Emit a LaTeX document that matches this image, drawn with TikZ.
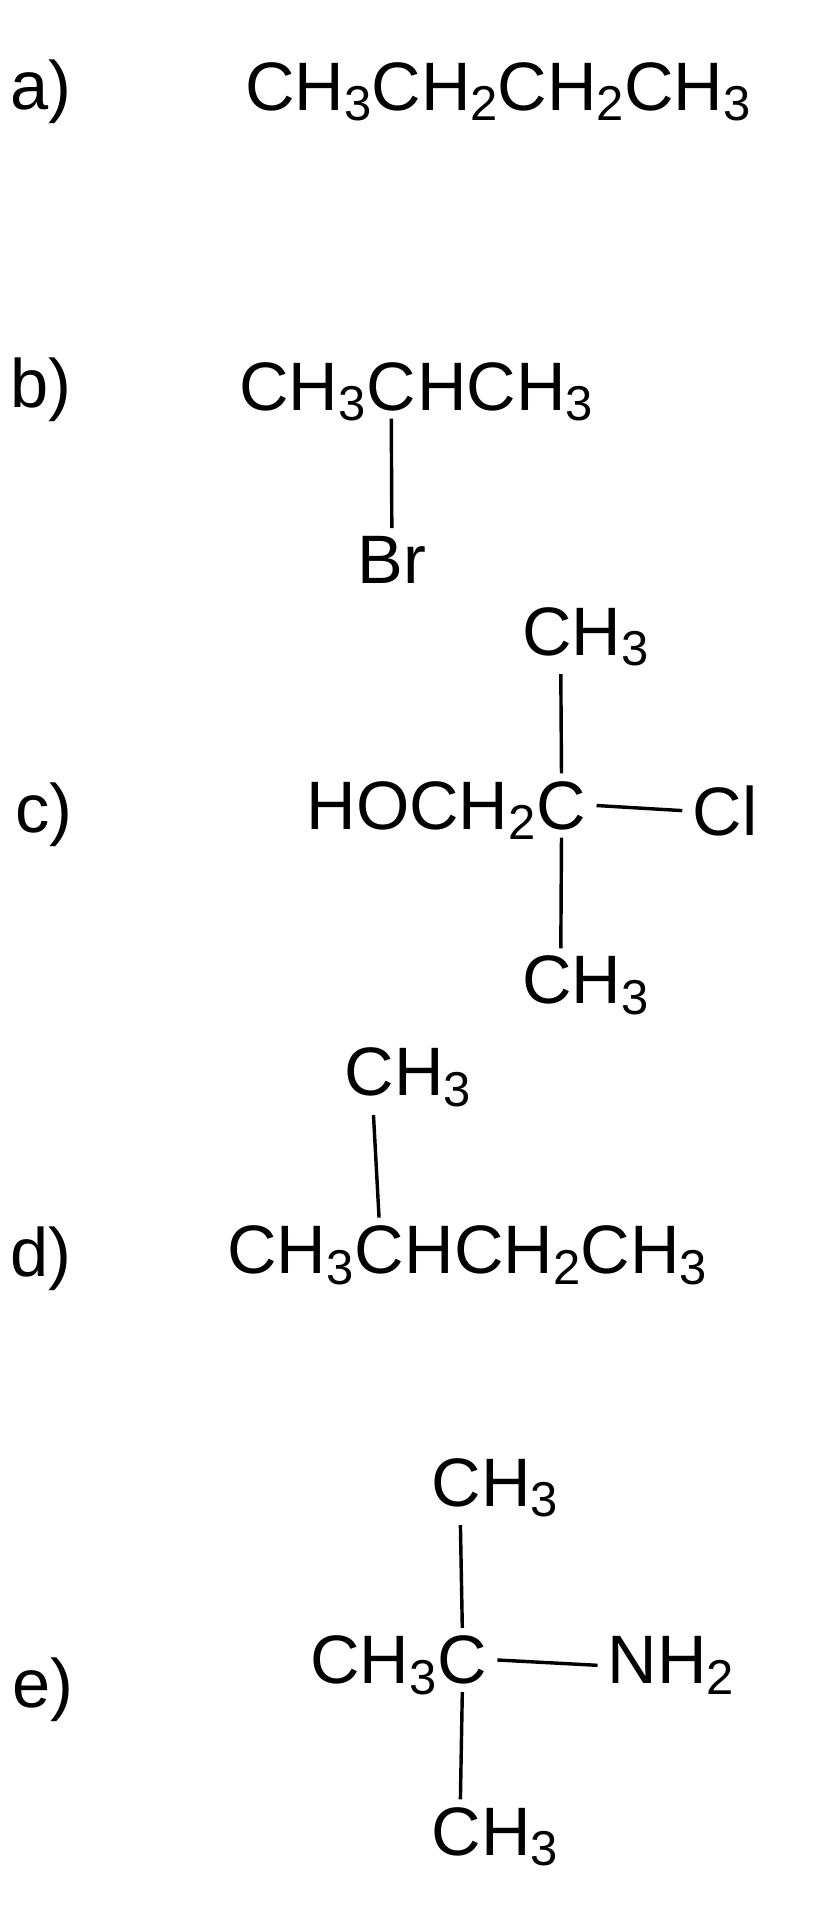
\documentclass[tikz,border=0pt]{standalone}
\usepackage{fontspec}
\setmainfont{Liberation Sans}
\newcommand\sbs[1]{\raisebox{-0.3ex}{\fontsize{20}{20}\selectfont #1}}
\begin{document}
\begin{tikzpicture}[x=0.5pt,y=-0.5pt,
  every node/.style={inner sep=0pt,font=\fontsize{28}{30}\selectfont},
  lbl/.style={anchor=west},
  bond/.style={line width=1.4pt}]
\useasboundingbox (0,0) rectangle (680,1568);
% a
\node[lbl] (la) at (8,75) {a)};
\node[anchor=west] (a1) at (200,75) {CH\sbs3CH\sbs2CH\sbs2CH\sbs3};
% b
\node[lbl] (lb) at (8,318) {b)};
\node[anchor=west] (b1) at (195,320) {CH\sbs3};
\node[anchor=base west] (bC) at (b1.base east) {C};
\node[anchor=base west] (b2) at (bC.base east) {HCH\sbs3};
\node (bBr) at (320,457) {Br};
\draw[bond] ([yshift=-3pt]bC.south) -- ([yshift=3pt]bBr.north);
% c
\node[lbl] (lc) at (12,665) {c)};
\node[anchor=west] (c1) at (250,662) {HOCH\sbs2};
\node[anchor=base west] (cC) at (c1.base east) {C};
\node (cCl) at (592,662) {Cl};
\node (cT) at (478,520) {CH\sbs3};
\node (cB) at (478,805) {CH\sbs3};
\draw[bond] ([yshift=3pt]cC.north) -- ([xshift=-10pt,yshift=-3pt]cT.south);
\draw[bond] ([yshift=-3pt]cC.south) -- ([xshift=-10pt,yshift=3pt]cB.north);
\draw[bond] ([xshift=4pt]cC.east) -- ([xshift=-4pt]cCl.west);
% d
\node[lbl] (ld) at (8,1028) {d)};
\node (dT) at (333,880) {CH\sbs3};
\node[anchor=west] (d1) at (185,1025) {CH\sbs3};
\node[anchor=base west] (dC) at (d1.base east) {C};
\node[anchor=base west] (d2) at (dC.base east) {HCH\sbs2CH\sbs3};
\draw[bond] ([yshift=3pt]dC.north) -- ([xshift=-14pt,yshift=-3pt]dT.south);
% e
\node[lbl] (le) at (10,1380) {e)};
\node[anchor=west] (e1) at (253,1360) {CH\sbs3};
\node[anchor=base west] (eC) at (e1.base east) {C};
\node[anchor=west] (eN) at (496,1360) {NH\sbs2};
\node (eT) at (404,1215) {CH\sbs3};
\node (eB) at (404,1500) {CH\sbs3};
\draw[bond] ([yshift=3pt]eC.north) -- ([xshift=-14pt,yshift=-3pt]eT.south);
\draw[bond] ([yshift=-3pt]eC.south) -- ([xshift=-14pt,yshift=3pt]eB.north);
\draw[bond] ([xshift=4pt]eC.east) -- ([xshift=-4pt]eN.west);
\end{tikzpicture}
\end{document}
